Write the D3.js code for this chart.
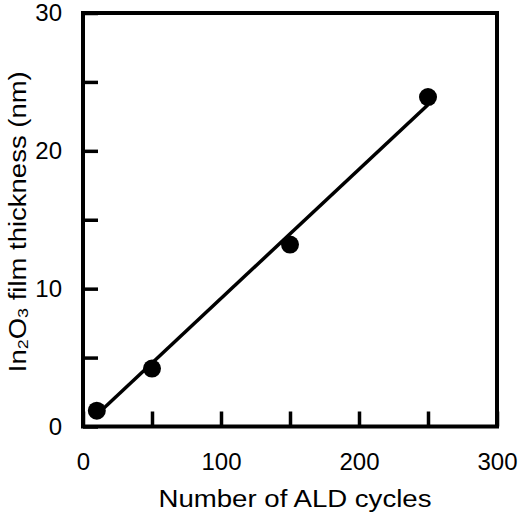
<!DOCTYPE html>
<html lang="en">
<head>
    <meta charset="UTF-8">
    <title>In2O3 film thickness</title>
    <style>
        body { margin: 0; background: #fff; }
        svg text { font-family: Arial, "Liberation Sans", sans-serif; fill: #000; }
    </style>
</head>
<body>
    <svg class="plot"></svg>
    <script src="https://d3js.org/d3.v7.min.js"></script>
    <script>
    // values
    const cycles = [10, 50, 150, 250];
    const thickness = [1.15, 4.2, 13.2, 23.9];
    // linear fit line end points
    const fitCycles = [10, 250];
    const fitThickness = [0.85, 23.35];

    const xTicks = [0, 50, 100, 150, 200, 250, 300];
    const yTicks = [0, 5, 10, 15, 20, 25, 30];

    const width = 520, height = 514;
    const margin = {top: 13, right: 23, bottom: 87.5, left: 83};

    const svg = d3.select(".plot")
        .attr("width", width)
        .attr("height", height);

    const x_scale = d3.scaleLinear()
        .domain([0, 300])
        .range([margin.left, width - margin.right]);

    const y_scale = d3.scaleLinear()
        .domain([0, 30])
        .range([height - margin.bottom, margin.top]);

    const x_axis = d3.axisBottom(x_scale)
        .tickValues(xTicks)
        .tickSizeInner(-15)
        .tickSizeOuter(0)
        .tickPadding(26)
        .tickFormat(d => d % 100 === 0 ? d : "");

    const y_axis = d3.axisLeft(y_scale)
        .tickValues(yTicks)
        .tickSizeInner(-15)
        .tickSizeOuter(0)
        .tickPadding(21)
        .tickFormat(d => d % 10 === 0 ? d : "");

    const gx = svg.append("g")
        .attr("transform", "translate(0," + y_scale(0) + ")")
        .call(x_axis);

    const gy = svg.append("g")
        .attr("transform", "translate(" + x_scale(0) + ",0)")
        .call(y_axis);

    [gx, gy].forEach(g => {
        g.select(".domain").remove();
        g.selectAll(".tick line").attr("stroke", "#000").attr("stroke-width", 3.5);
        g.selectAll(".tick text")
            .style("font-family", "Arial, 'Liberation Sans', sans-serif")
            .style("font-size", "24px")
            .attr("fill", "#000");
    });

    // frame
    svg.append("rect")
        .attr("x", x_scale(0))
        .attr("y", y_scale(30))
        .attr("width", x_scale(300) - x_scale(0))
        .attr("height", y_scale(0) - y_scale(30))
        .attr("fill", "none")
        .attr("stroke", "#000")
        .attr("stroke-width", 4);

    // fit line
    const line_gen = d3.line()
        .x((d, i) => x_scale(fitCycles[i]))
        .y(d => y_scale(d));

    svg.append("path")
        .datum(fitThickness)
        .attr("d", line_gen)
        .attr("fill", "none")
        .attr("stroke", "#000")
        .attr("stroke-width", 3.5);

    svg.selectAll("circle.pt")
        .data(cycles)
        .enter()
        .append("circle")
        .attr("class", "pt")
        .attr("cx", d => x_scale(d))
        .attr("cy", (d, i) => y_scale(thickness[i]))
        .attr("r", 9)
        .attr("fill", "#000");

    // axis titles
    svg.append("text")
        .attr("x", 295)
        .attr("y", 506.5)
        .attr("text-anchor", "middle")
        .attr("textLength", 273)
        .attr("lengthAdjust", "spacingAndGlyphs")
        .style("font-size", "23px")
        .text("Number of ALD cycles");

    const yt = svg.append("text")
        .attr("transform", "translate(26," + ((y_scale(0) + y_scale(30)) / 2 + 2) + ") rotate(-90)")
        .attr("text-anchor", "middle")
        .attr("textLength", 301)
        .attr("lengthAdjust", "spacingAndGlyphs")
        .style("font-size", "23px");
    yt.append("tspan").text("In");
    yt.append("tspan").attr("dy", 1.5).style("font-size", "15px").text("2");
    yt.append("tspan").attr("dy", -1.5).text("O");
    yt.append("tspan").attr("dy", 1.5).style("font-size", "15px").text("3");
    yt.append("tspan").attr("dy", -1.5).text(" film thickness (nm)");
    </script>
</body>
</html>
